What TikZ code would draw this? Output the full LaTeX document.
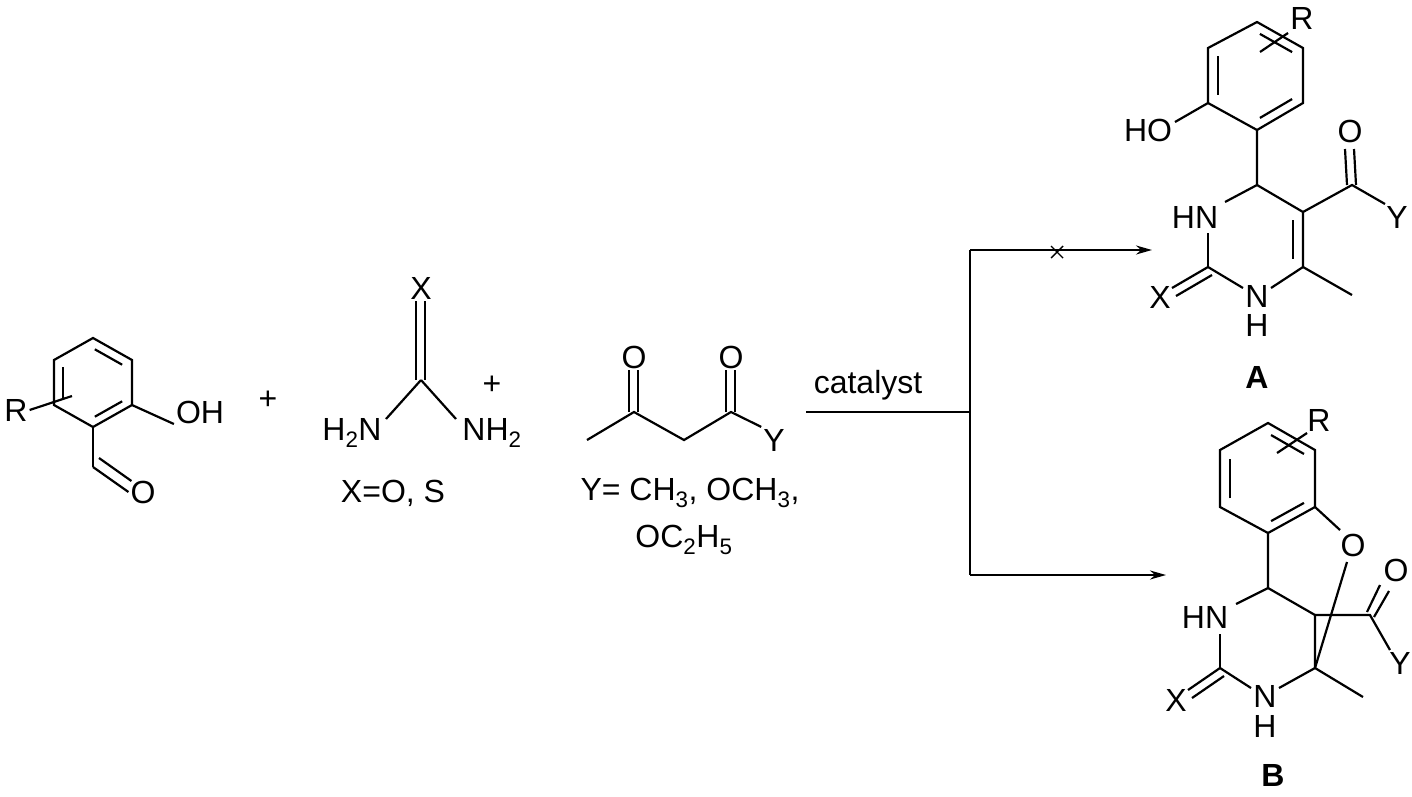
\documentclass[tikz,border=0pt]{standalone}
\usepackage{fontspec}
\setmainfont{Liberation Sans}
\usetikzlibrary{calc,arrows.meta}
\newcommand{\sbs}[1]{\textsubscript{#1}}
\begin{document}
\begin{tikzpicture}[x=1pt,y=-1pt,line width=2.2pt,
  lab/.style={inner sep=1pt,font=\fontsize{32}{35}\selectfont},
  arr/.style={-{Stealth[length=16pt,width=9pt]}},
  bnd/.style={line cap=round}]
\useasboundingbox (0,0) rectangle (1412,796);
% ---- salicylaldehyde
\coordinate (a1) at (93,338); \coordinate (a2) at (132,360); \coordinate (a3) at (132,405);
\coordinate (a4) at (93,427); \coordinate (a5) at (54,405); \coordinate (a6) at (54,360);
\draw[bnd] (a1)--(a2)--(a3)--(a4)--(a5)--(a6)--cycle;
\draw ($(a1)!0.15!(a2)+(-4,8)$) -- ($(a1)!0.85!(a2)+(-4,8)$);
\draw ($(a3)!0.15!(a4)+(-4,-7)$) -- ($(a3)!0.85!(a4)+(-4,-7)$);
\draw ($(a5)!0.15!(a6)+(9,0)$) -- ($(a5)!0.85!(a6)+(9,0)$);
\node[lab] (R1) at (16,410) {R};
\coordinate (r1e) at (72,396);
\draw (R1.east) -- (r1e);
\node[lab] (OH1) at (200,412) {OH};
\draw (a3) -- (OH1.west|-0,424);
\coordinate (cho) at (93,467);
\draw (a4) -- (cho);
\node[lab] (O1) at (143,492) {O};
\draw (cho) -- (O1.west);
\draw ($(cho)+(6,-9)$) -- ($(O1.west)+(3,-11)$);
\node[lab] (p1) at (268,400) {+};
% ---- urea
\node[lab] (X0) at (421,288) {X};
\coordinate (uc) at (421,380);
\draw ($(X0.south)+(-5,0)$) -- ($(uc)+(-5,0)$);
\draw ($(X0.south)+(4,0)$) -- ($(uc)+(4,0)$);
\node[lab] (H2N) at (352,433) {H\sbs{2}N};
\node[lab] (NH2) at (492,433) {NH\sbs{2}};
\draw (uc) -- (386,419);
\draw (uc) -- (456,419);
\node[lab] (p2) at (492,385) {+};
\node[lab] (xos) at (393,493) {X=O, S};
% ---- acetoacetate
\coordinate (k1) at (587,440); \coordinate (k2) at (634,412); \coordinate (k3) at (684,440);
\coordinate (k4) at (731,412);
\node[lab] (Oa) at (634,357) {O};
\node[lab] (Ob) at (731,357) {O};
\node[lab] (Y0) at (774,440) {Y};
\draw (k1)--(k2)--(k3)--(k4)--(Y0.north west);
\draw ($(k2)+(-5,0)$) -- ($(Oa.south)+(-5,0)$);
\draw ($(k2)+(4,0)$) -- ($(Oa.south)+(4,0)$);
\draw ($(k4)+(-5,0)$) -- ($(Ob.south)+(-5,0)$);
\draw ($(k4)+(4,0)$) -- ($(Ob.south)+(4,0)$);
\node[lab] (ylab) at (690,493) {Y= CH\sbs{3}, OCH\sbs{3},};
\node[lab] (ylab2) at (684,540) {OC\sbs{2}H\sbs{5}};
% ---- arrows
\coordinate (s0) at (806,412); \coordinate (s1) at (970,412);
\coordinate (t0) at (970,250); \coordinate (b0) at (970,575);
\coordinate (t1) at (1152,250); \coordinate (b1) at (1166,575);
\draw (s0) -- (s1);
\node[lab] (cat) at (868,385) {catalyst};
\draw (t0) -- (b0);
\draw[arr] (t0) -- (t1);
\draw[arr] (b0) -- (b1);
\coordinate (xm) at (1057,252);
\draw[line width=1.4pt] ($(xm)+(-6,-6)$) -- ($(xm)+(6,6)$) ($(xm)+(-6,6)$) -- ($(xm)+(6,-6)$);
% ---- product A
\coordinate (A1) at (1257,22); \coordinate (A2) at (1303,48); \coordinate (A3) at (1303,103);
\coordinate (A4) at (1257,130); \coordinate (A5) at (1208,103); \coordinate (A6) at (1208,48);
\draw[bnd] (A1)--(A2)--(A3)--(A4)--(A5)--(A6)--cycle;
\draw ($(A1)!0.15!(A2)+(-4,8)$) -- ($(A1)!0.85!(A2)+(-4,8)$);
\draw ($(A3)!0.15!(A4)+(-4,-8)$) -- ($(A3)!0.85!(A4)+(-4,-8)$);
\draw ($(A5)!0.15!(A6)+(10,0)$) -- ($(A5)!0.85!(A6)+(10,0)$);
\node[lab] (RA) at (1302,18) {R};
\draw (1260,52) -- (1288,33);
\node[lab] (HOA) at (1148,130) {HO};
\draw (A5) -- (1175,122);
\coordinate (C4a) at (1257,185); \coordinate (C5a) at (1303,212); \coordinate (C6a) at (1303,267);
\coordinate (C2a) at (1208,267); \coordinate (COa) at (1352,185); \coordinate (Mea) at (1352,295);
\draw (A4) -- (C4a) -- (C5a) -- (C6a) -- (Mea);
\draw ($(C5a)+(-10,8)$) -- ($(C6a)+(-10,-8)$);
\node[lab] (HNa) at (1195,217) {HN};
\draw (C4a) -- (1225,202);
\draw (1208,233) -- (C2a);
\node[lab] (Na) at (1257,296) {N};
\node[lab] (NHa) at (1257,325) {H};
\draw (C2a) -- (1243,288);
\draw (C6a) -- (1271,288);
\node[lab] (Xa) at (1160,297) {X};
\draw (C2a) -- (1172,288);
\draw ($(C2a)+(4,8)$) -- ($(1172,288)+(4,8)$);
\node[lab] (OA) at (1350,131) {O};
\draw (C5a) -- (COa) -- (1385,204);
\draw ($(COa)+(-5,0)$) -- (1345,149);
\draw ($(COa)+(4,0)$) -- (1354,149);
\node[lab] (YA) at (1397,217) {Y};
\node[lab,font=\fontsize{32}{35}\selectfont\bfseries] (Alab) at (1257,377) {A};
% ---- product B
\coordinate (B1) at (1268,423); \coordinate (B2) at (1315,450); \coordinate (B3) at (1315,507);
\coordinate (B4) at (1268,533); \coordinate (B5) at (1220,507); \coordinate (B6) at (1220,450);
\draw[bnd] (B1)--(B2)--(B3)--(B4)--(B5)--(B6)--cycle;
\draw ($(B1)!0.15!(B2)+(-4,8)$) -- ($(B1)!0.85!(B2)+(-4,8)$);
\draw ($(B3)!0.15!(B4)+(-4,-8)$) -- ($(B3)!0.85!(B4)+(-4,-8)$);
\draw ($(B5)!0.15!(B6)+(10,0)$) -- ($(B5)!0.85!(B6)+(10,0)$);
\node[lab] (RB) at (1319,420) {R};
\draw (1277,453) -- (1307,433);
\node[lab] (OB) at (1353,545) {O};
\draw (B3) -- (1340,530);
\coordinate (C4b) at (1268,588); \coordinate (C5b) at (1315,615); \coordinate (C6b) at (1315,668);
\coordinate (C2b) at (1220,668); \coordinate (COb) at (1370,615); \coordinate (Meb) at (1363,697);
\draw (B4) -- (C4b) -- (C5b) -- (C6b) -- (Meb);
\draw (C5b) -- (COb) -- (1390,650);
\draw (1347,562) -- (C6b);
\node[lab] (OB2) at (1396,570) {O};
\draw ($(COb)+(-3,-3)$) -- (1380,585);
\draw ($(COb)+(4,2)$) -- (1389,591);
\node[lab] (YB) at (1400,663) {Y};
\node[lab] (HNb) at (1205,617) {HN};
\draw (C4b) -- (1236,604);
\draw (1220,634) -- (C2b);
\node[lab] (Nb) at (1265,696) {N};
\node[lab] (NHb) at (1265,726) {H};
\draw (C2b) -- (1251,688);
\draw (C6b) -- (1279,688);
\node[lab] (Xb) at (1176,700) {X};
\draw (C2b) -- (1188,690);
\draw ($(C2b)+(4,8)$) -- ($(1188,690)+(4,8)$);
\node[lab,font=\fontsize{32}{35}\selectfont\bfseries] (Blab) at (1273,775) {B};
\end{tikzpicture}
\end{document}
